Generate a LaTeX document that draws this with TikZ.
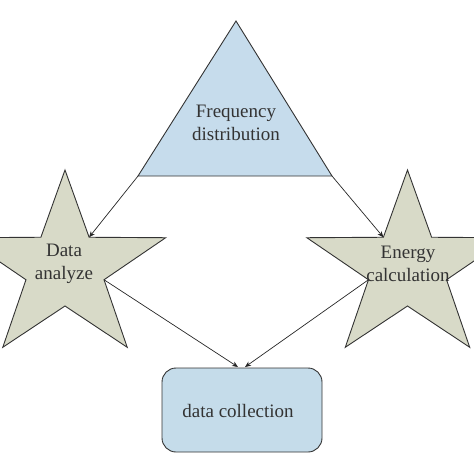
\documentclass[tikz,border=0pt]{standalone}
\usepackage{fontspec}
\setmainfont{Liberation Serif}
\usetikzlibrary{arrows.meta}
\definecolor{triblue}{HTML}{C6DCEC}
\definecolor{boxblue}{HTML}{C5DCEA}
\definecolor{stargreen}{HTML}{D8DAC8}
\definecolor{edge}{HTML}{333333}
\tikzset{
  shapeline/.style={draw=edge, line width=0.9pt},
  lbl/.style={font=\fontsize{19}{22.5}\selectfont, align=center, text=black!80},
  conn/.style={-{Stealth[length=6pt,width=5pt]}, line width=0.7pt, black!85},
}
\newcommand\mystar[2]{%
  \begin{scope}[shift={#2}, xscale=1.08, yscale=-1]
    \foreach \i in {0,...,4} {
      \coordinate (#1o\i) at (90+72*\i:98);
      \coordinate (#1i\i) at (126+72*\i:38);
    }
  \end{scope}
  \draw[shapeline, fill=stargreen] (#1o0) -- (#1i0) -- (#1o1) -- (#1i1) -- (#1o2) -- (#1i2) -- (#1o3) -- (#1i3) -- (#1o4) -- (#1i4) -- cycle;
}
\begin{document}
\begin{tikzpicture}[x=1pt,y=-1pt]
\useasboundingbox (0,0) rectangle (474,474);
% triangle
\coordinate (tA) at (236,21);
\coordinate (tL) at (138,176);
\coordinate (tR) at (332,176);
\draw[shapeline, fill=triblue] (tA) -- (tL) -- (tR) -- cycle;
\node[lbl] (tlabel) at (236,123) {Frequency\\distribution};
% stars
\mystar{sa}{(65,268)}
\mystar{sb}{(407.5,268)}
\node[lbl] (salabel) at (64,264) {Data\\analyze};
\node[lbl] (sblabel) at (408,264) {Energy\\calculation};
% box
\node[shapeline, fill=boxblue, rounded corners=14pt, minimum width=160pt, minimum height=84pt, inner sep=0pt] (box) at (242,410) {};
\node[lbl] (blabel) at (238,411) {data collection};
% connectors
\coordinate (b1) at (238,367);
\coordinate (b2) at (245,367);
\draw[conn] (tL) -- (sai4);
\draw[conn] (tR) -- (sbi0);
\draw[conn] (sai3) -- (b1);
\draw[conn] (sbi1) -- (b2);
\end{tikzpicture}
\end{document}
